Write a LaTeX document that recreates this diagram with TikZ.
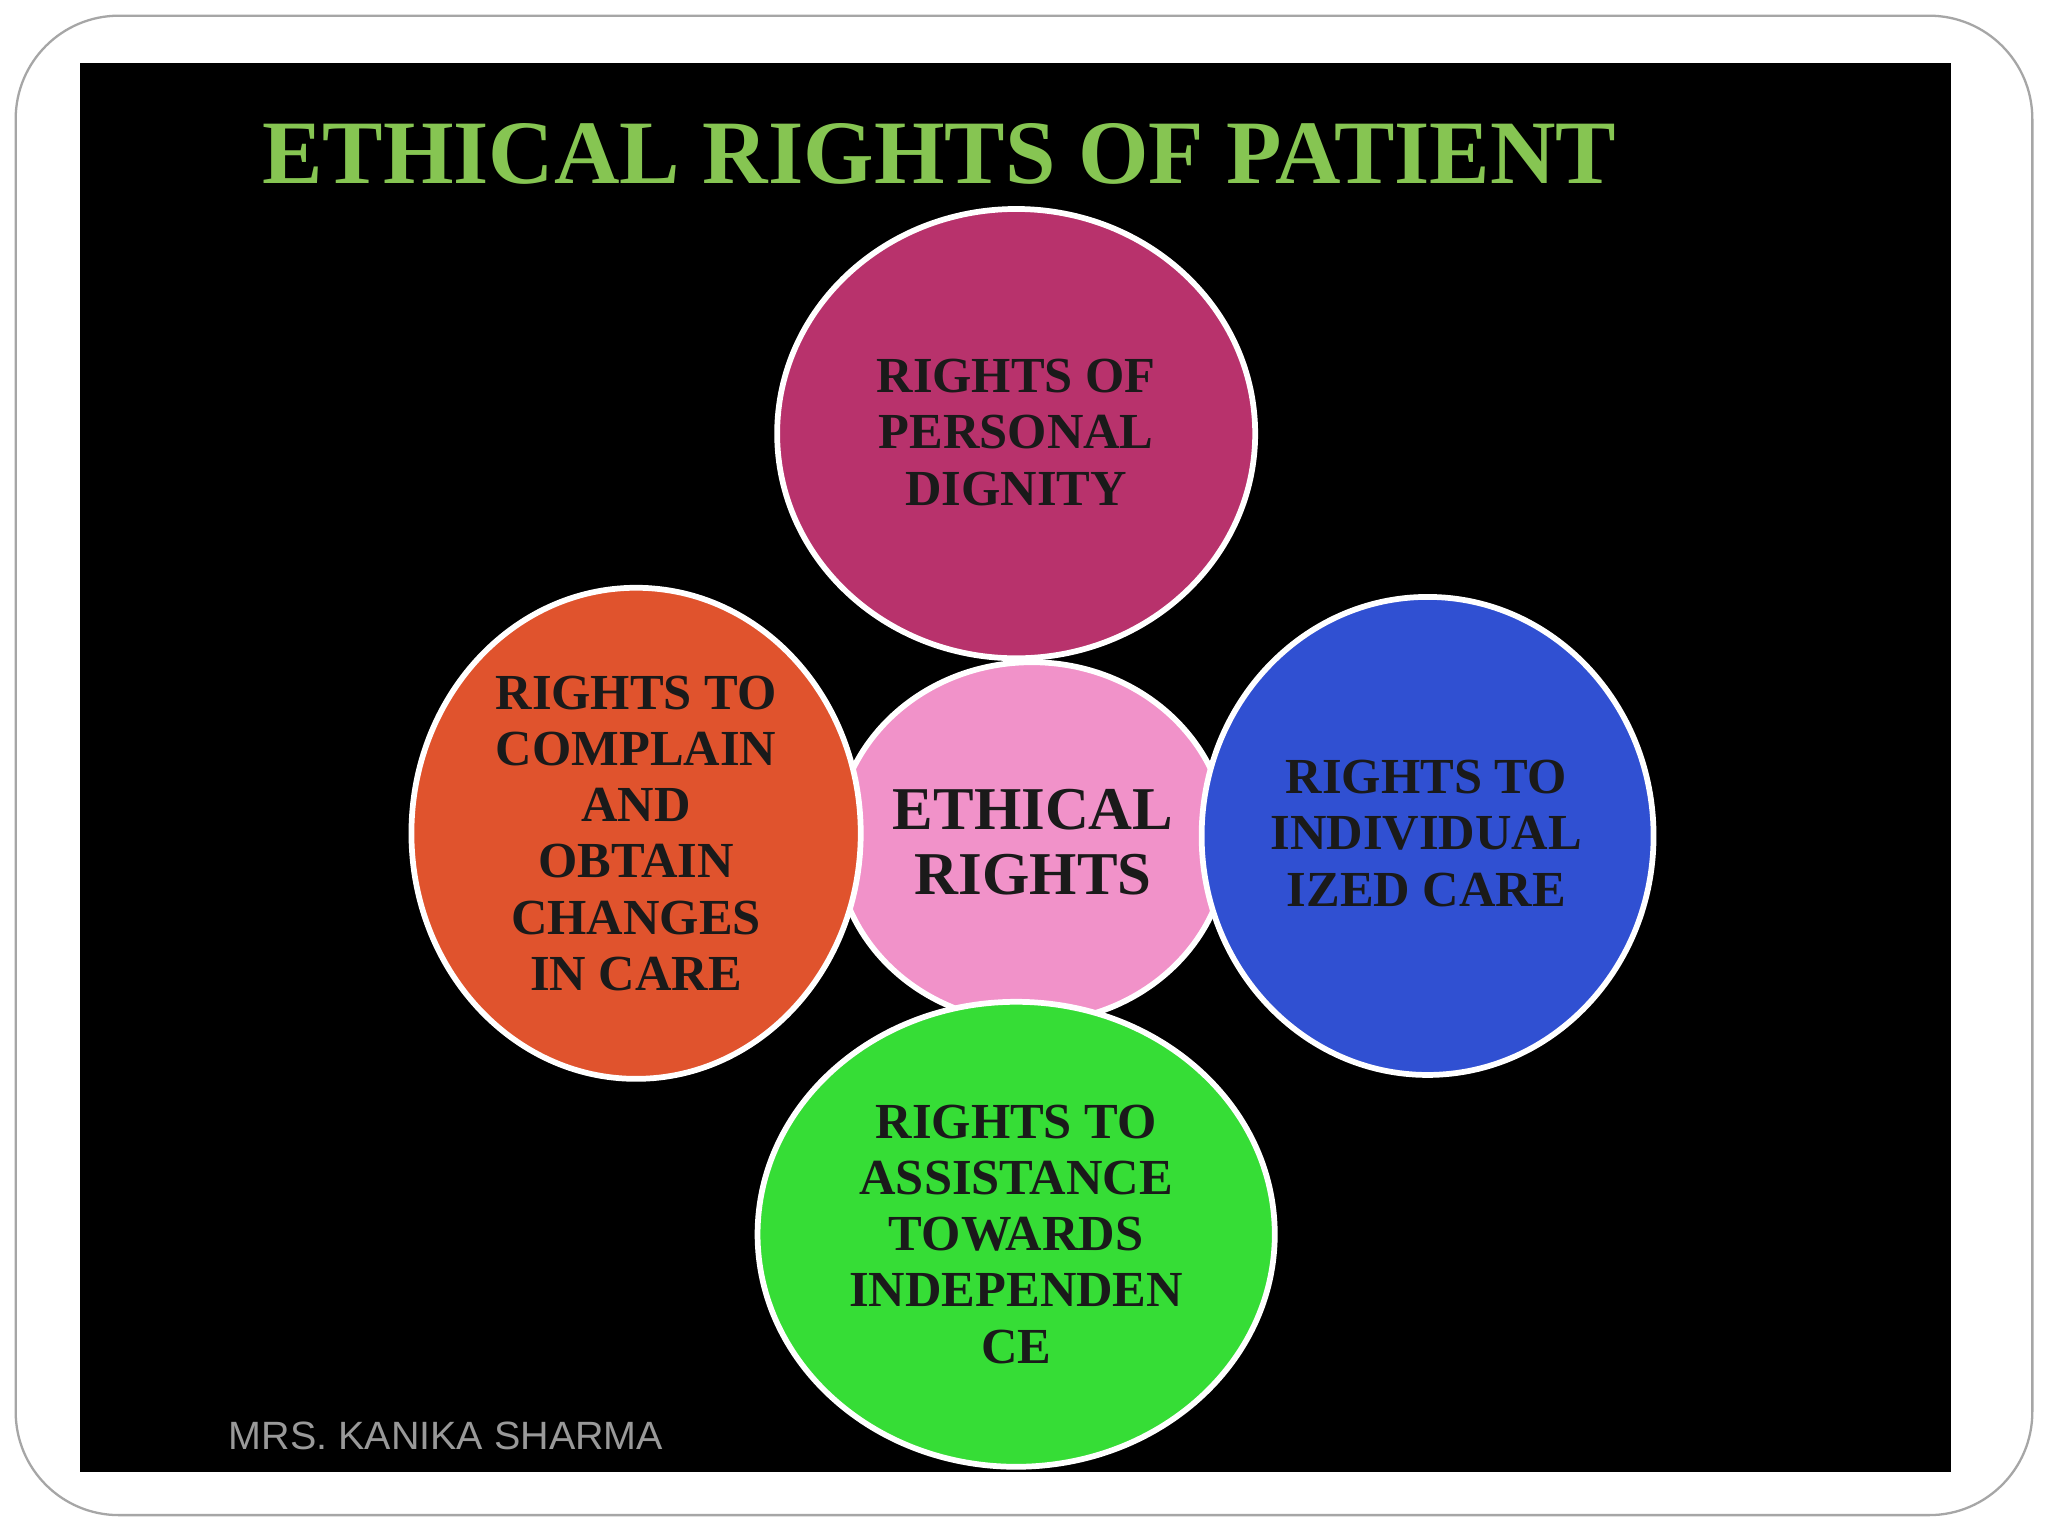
\documentclass[tikz,border=0pt]{standalone}
\usepackage{fontspec}
\setmainfont{Liberation Serif}
\newfontfamily\footfont{Liberation Sans}
\definecolor{titlegreen}{HTML}{86C552}
\definecolor{cmaroon}{HTML}{B8326C}
\definecolor{corange}{HTML}{E0532D}
\definecolor{cpink}{HTML}{F192C9}
\definecolor{cblue}{HTML}{3050D2}
\definecolor{cgreen}{HTML}{36DD36}
\definecolor{ctext}{HTML}{1A1A1A}
\tikzset{
  circ/.style={draw=white, line width=2.5pt},
  ctxt/.style={align=center, font=\bfseries\fontsize{22}{24.5}\selectfont, text=ctext},
}
\begin{document}
\begin{tikzpicture}[x=0.02cm,y=-0.02cm]
\useasboundingbox (0,0) rectangle (1568,1176);
\fill[white] (0,0) rectangle (1568,1176);
\draw[gray!70, line width=1pt, rounded corners=45] (12,12) rectangle (1556,1160);
\fill[black] (61,48) rectangle (1494,1127);
\node[text=titlegreen, font=\bfseries\fontsize{39.5}{44}\selectfont] (title) at (719,118) {ETHICAL RIGHTS OF PATIENT};
\fill[cpink, circ] (790,645) ellipse [x radius=150, y radius=138];
\fill[corange, circ] (487,638) ellipse [x radius=172, y radius=188];
\fill[cblue, circ] (1093,640) ellipse [x radius=173, y radius=183];
\fill[cmaroon, circ] (778,332) ellipse [x radius=183, y radius=172];
\fill[cgreen, circ] (778,945) ellipse [x radius=198, y radius=178];
\node[ctxt, font=\bfseries\fontsize{26.5}{28.5}\selectfont] (center) at (791,645) {ETHICAL\\RIGHTS};
\node[ctxt] (top) at (778,331) {RIGHTS OF\\PERSONAL\\DIGNITY};
\node[ctxt] (left) at (487,638) {RIGHTS TO\\COMPLAIN\\AND\\OBTAIN\\CHANGES\\IN CARE};
\node[ctxt] (right) at (1092,638) {RIGHTS TO\\INDIVIDUAL\\IZED CARE};
\node[ctxt] (bottom) at (778,945) {RIGHTS TO\\ASSISTANCE\\TOWARDS\\INDEPENDEN\\CE};
\node[anchor=west, text=gray!80, font=\footfont\fontsize{17.2}{19}\selectfont] (foot) at (169,1099) {MRS. KANIKA SHARMA};
\end{tikzpicture}
\end{document}
